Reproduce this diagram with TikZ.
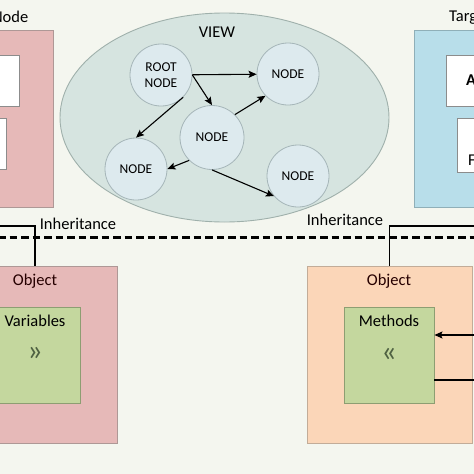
\documentclass[tikz,border=0pt]{standalone}
\usepackage{fontspec}
\setmainfont{Carlito}
\usetikzlibrary{arrows.meta,shapes.geometric}
\definecolor{bgc}{HTML}{F4F6EF}
\definecolor{pinkc}{HTML}{E6B9B8}
\definecolor{pinkd}{HTML}{AE9896}
\definecolor{orangec}{HTML}{FBD6B8}
\definecolor{oranged}{HTML}{C2AC98}
\definecolor{bluec}{HTML}{B8DEEA}
\definecolor{blued}{HTML}{8FAFB8}
\definecolor{greenc}{HTML}{C4D79E}
\definecolor{greend}{HTML}{8D9E72}
\definecolor{viewc}{HTML}{D6E4E0}
\definecolor{viewd}{HTML}{9FB0AB}
\definecolor{circc}{HTML}{DDEAEE}
\definecolor{circd}{HTML}{A5B5B8}
\definecolor{chevc}{HTML}{4F6142}
\begin{document}
\begin{tikzpicture}[x=1pt,y=-1pt,
  txt/.style={font=\fontsize{16.5}{18}\selectfont, inner sep=0pt},
  ntxt/.style={font=\fontsize{13.5}{16}\selectfont, align=center},
  chev/.style={font=\fontsize{30}{30}\selectfont, inner sep=0pt, text=chevc},
  box/.style={draw=#1d, fill=#1c, line width=0.9, inner sep=0pt},
  wbox/.style={draw=black!45, fill=white, line width=0.9, inner sep=0pt},
  vnode/.style={circle, draw=circd, fill=circc, line width=0.8, minimum size=62, inner sep=0pt, ntxt},
  link/.style={line width=1.1, -{Stealth[length=8pt,width=7pt,inset=1.5pt]}},
  wire/.style={line width=1.1}]
% page, 474 x 474
\useasboundingbox[fill=bgc] (0,0) rectangle (474,474);
% upper row
\node[box=pink, minimum width=136, minimum height=177] (src) at (-15,118.5) {};
\node[wbox, minimum width=79, minimum height=51] (srcA) at (-20.5,80.5) {};
\node[wbox, minimum width=66, minimum height=51] (srcB) at (-27,143.5) {};
\node[txt, anchor=east] (srct) at (28.5,17) {Source Node};
\node[box=blue, minimum width=146, minimum height=177] (tgt) at (487,118.5) {};
\node[wbox, minimum width=84, minimum height=51] (tgtA) at (488,80.5) {};
\node[wbox, minimum width=83, minimum height=54] (tgtB) at (498.5,145) {};
\node[txt, anchor=west] (tgtt) at (449,17) {Target Node};
\node[txt, anchor=west] at (466,80.5) {\textbf{A}};
\node[txt, anchor=west] at (468,160) {F};
% view
\node[ellipse, draw=viewd, fill=viewc, line width=0.9, minimum width=329, minimum height=209] (view) at (224.5,117.5) {};
\node[txt] (viewt) at (217,32) {VIEW};
\node[vnode] (root) at (161,75) {ROOT\\NODE};
\node[vnode] (nodeA) at (288,74) {NODE};
\node[vnode, minimum size=64] (nodeB) at (212,137.5) {NODE};
\node[vnode] (nodeC) at (136,169) {NODE};
\node[vnode] (nodeD) at (298,176) {NODE};
\draw[link] (root) -- (nodeA);
\draw[link] (root.east) -- (nodeB.north);
\draw[link] (root.-45) -- (nodeC.north);
\draw[link] (nodeB.45) -- (nodeA.-136);
\draw[link] (nodeB.-135) -- (nodeC.east);
\draw[link] (nodeB.south) -- (nodeD.-140);
% separator
\draw[line width=3, dash pattern=on 7.5pt off 4pt] (-2,237) -- (480,237);
% lower row
\node[box=pink, minimum width=164, minimum height=177] (objL) at (35,354.5) {};
\node[box=green, minimum width=90, minimum height=96] (varL) at (35,355) {};
\node[txt, text=black!85!red] (objLt) at (35,281) {Object};
\node[txt] (varLt) at (35,321) {Variables};
\node[chev] (chevL) at (35,354) {»};
\node[box=orange, minimum width=165, minimum height=177] (objR) at (389.5,354.5) {};
\node[box=green, minimum width=90, minimum height=96] (metR) at (389,355) {};
\node[txt, text=black!85!red] (objRt) at (389,281) {Object};
\node[txt] (metRt) at (389,321) {Methods};
\node[chev] (chevR) at (389,355) {«};
\node[txt] (inhLt) at (78,224) {Inheritance};
\node[txt] (inhRt) at (345,220) {Inheritance};
\coordinate (inhL) at (-5,226);
\coordinate (inhR) at (480,226);
\coordinate (inR) at (480,335);
\coordinate (outR) at (480,380);
\draw[wire] (inhL) -| (objL.north);
\draw[wire] (objR.north) |- (inhR);
\draw[link] (inR) -- (metR.east |- inR);
\draw[wire] (metR.east |- outR) -- (outR);
\end{tikzpicture}
\end{document}
